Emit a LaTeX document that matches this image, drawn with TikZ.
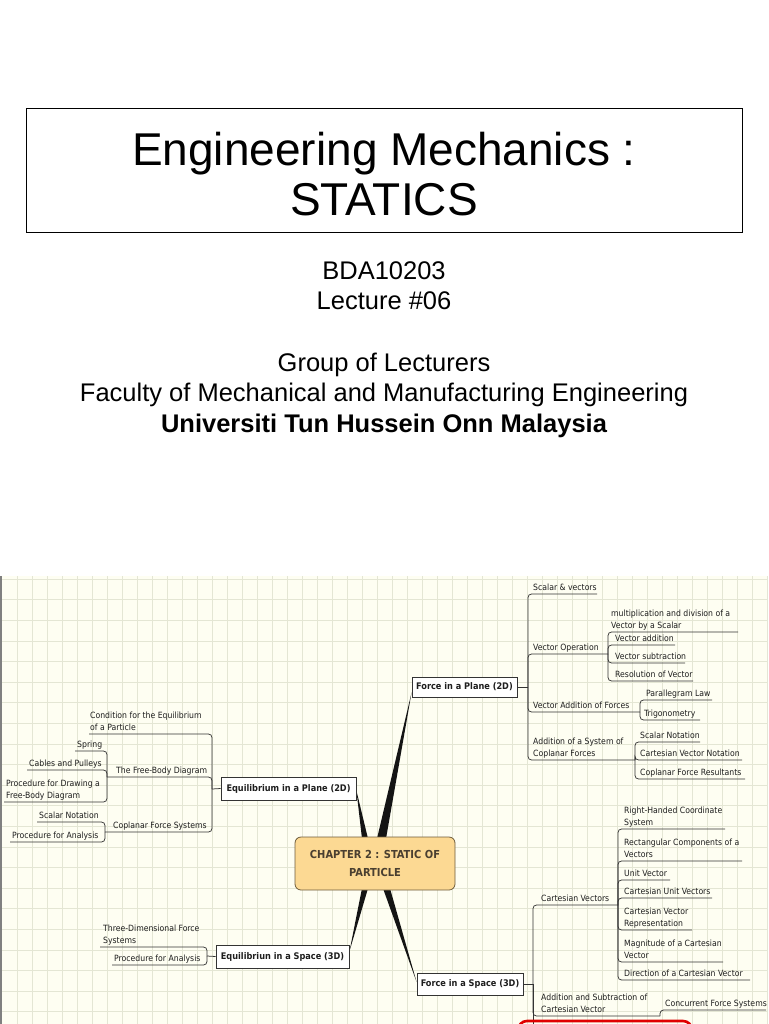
\documentclass[tikz,border=0pt]{standalone}
\usepackage{fontspec}
\setmainfont{Liberation Sans}
\newfontfamily\mmf{DejaVu Sans Condensed}[BoldFont={DejaVu Sans Condensed Bold}]
\usetikzlibrary{calc}
\definecolor{bgc}{HTML}{FEFEF2}
\definecolor{gridc}{HTML}{E4E6D4}
\definecolor{txtc}{HTML}{1E1E1E}
\definecolor{linec}{HTML}{333333}
\definecolor{corec}{HTML}{FCD993}
\definecolor{coreb}{HTML}{6E5C3C}
\definecolor{coret}{HTML}{4A3F30}
\definecolor{redc}{HTML}{E00000}
\pgfdeclarelayer{back}
\pgfsetlayers{back,main}
\tikzset{
  item/.style={font=\mmf\fontsize{8.6}{12.8}\selectfont, text=txtc, inner xsep=0pt,
    inner ysep=3pt, text depth=0pt, align=left, anchor=south west},
  topic/.style={draw=linec, fill=white, line width=0.8pt,
    font=\mmf\bfseries\fontsize{9.1}{11}\selectfont, text=txtc, inner sep=0pt},
  core/.style={draw=coreb, fill=corec, line width=0.8pt, rounded corners=6pt,
    font=\mmf\bfseries\fontsize{11}{17.5}\selectfont, text=coret, align=center,
    minimum width=160pt, minimum height=53pt, inner sep=0pt},
  conn/.style={draw=linec, line width=0.75pt, rounded corners=3.5pt},
  taper/.style={fill=black!92},
  titlet/.style={font=\fontsize{46}{50}\selectfont, anchor=base, inner sep=0pt},
  slide/.style={font=\fontsize{25.5}{30}\selectfont, anchor=base, inner sep=0pt},
}
\newcommand\mmi[5]{\node[item] (#1) at (#2,#3) {#4}; \coordinate (#1-e) at (#5,#3);}
\begin{document}
\begin{tikzpicture}[x=1pt,y=-1pt]
\useasboundingbox (0,0) rectangle (768,1024);
\begin{pgfonlayer}{back}
\fill[white] (0,0) rectangle (768,1024);
\fill[bgc] (0,576) rectangle (768,1024);
\foreach \i in {1,...,51} \draw[gridc, line width=0.6pt] ({2+15*\i},576) -- ({2+15*\i},1024);
\foreach \i in {0,...,21} \draw[gridc, line width=0.6pt] (0,{579+20.6*\i}) -- (768,{579+20.6*\i});
\draw[gray, line width=2pt] (1,576) -- (1,1024);
\end{pgfonlayer}

% ---- title slide
\node[draw, line width=0.8pt, minimum width=716pt, minimum height=124pt, inner sep=0pt] (titlebox) at (384,170) {};
\node[titlet] (t1) at (384,166) {Engineering Mechanics :};
\node[titlet] (t2) at (384,216) {STATICS};
\node[slide] (s1) at (384,279) {BDA10203};
\node[slide] (s2) at (384,309) {Lecture \#06};
\node[slide] (s3) at (384,371) {Group of Lecturers};
\node[slide] (s4) at (384,401) {Faculty of Mechanical and Manufacturing Engineering};
\node[slide, font=\bfseries\fontsize{25.5}{30}\selectfont] (s5) at (384,432) {Universiti Tun Hussein Onn Malaysia};

% ---- mind map main nodes
\node[core] (core) at (375,863.5) {CHAPTER 2 : STATIC OF\\PARTICLE};
\node[topic, minimum width=105pt, minimum height=20pt] (FP) at (464.5,687) {Force in a Plane (2D)};
\node[topic, minimum width=135pt, minimum height=23pt] (EP) at (288.5,788.5) {Equilibrium in a Plane (2D)};
\node[topic, minimum width=133pt, minimum height=23pt] (ES) at (282.5,956.5) {Equilibriun in a Space (3D)};
\node[topic, minimum width=106pt, minimum height=22pt] (FS) at (470,984) {Force in a Space (3D)};

\begin{pgfonlayer}{back}
\fill[taper] ($(core.north)+(2,2)$) -- ($(core.north)+(11,2)$) -- ($(FP.south west)+(0,-5)$) -- cycle;
\fill[taper] ($(core.north)+(-13,2)$) -- ($(core.north)+(-7,2)$) -- ($(EP.east)+(0,2)$) -- cycle;
\fill[taper] ($(core.south)+(-13,-2)$) -- ($(core.south)+(-7,-2)$) -- ($(ES.east)+(0,-5)$) -- cycle;
\fill[taper] ($(core.south)+(8,-2)$) -- ($(core.south)+(15,-2)$) -- ($(FS.west)+(0,-2)$) -- cycle;
\end{pgfonlayer}

% ---- Force in a Plane (2D)
\coordinate (j1) at (528,687);
\mmi{sv}{533}{594}{Scalar \& vectors}{597}
\mmi{vo}{533}{654}{Vector Operation}{608}
\mmi{vaf}{533}{712}{Vector Addition of Forces}{640}
\mmi{asc}{533}{760}{Addition of a System of\\Coplanar Forces}{635}
\draw[conn] (FP.east) -- (j1);
\draw[conn] (j1) |- (sv-e);
\draw[conn] (j1) |- (vo-e);
\draw[conn] (j1) |- (vaf-e);
\draw[conn] (j1) |- (asc-e);

\mmi{md}{611}{632}{multiplication and division of a\\Vector by a Scalar}{738}
\mmi{vad}{615}{645}{Vector addition}{675}
\mmi{vsu}{615}{663}{Vector subtraction}{685}
\mmi{rov}{615}{681}{Resolution of Vector}{693}
\draw[conn] (vo-e) |- (md-e);
\draw[conn] (vo-e) |- (vad-e);
\draw[conn] (vo-e) |- (vsu-e);
\draw[conn] (vo-e) |- (rov-e);

\mmi{pl}{646}{700}{Parallegram Law}{712}
\mmi{tri}{644}{720}{Trigonometry}{700}
\draw[conn] (vaf-e) |- (pl-e);
\draw[conn] (vaf-e) |- (tri-e);

\mmi{sna}{640}{742}{Scalar Notation}{700}
\mmi{cvn}{640}{760}{Cartesian Vector Notation}{742}
\mmi{cfr}{640}{779}{Coplanar Force Resultants}{745}
\draw[conn] (asc-e) |- (sna-e);
\draw[conn] (asc-e) |- (cvn-e);
\draw[conn] (asc-e) |- (cfr-e);

% ---- Equilibrium in a Plane (2D)
\coordinate (j5) at (212,789);
\mmi{cond}{90}{734}{Condition for the Equilibrium\\of a Particle}{89}
\mmi{fbd}{116}{777}{The Free-Body Diagram}{107}
\mmi{cfs}{113}{832}{Coplanar Force Systems}{105}
\draw[conn] (EP.west) -- (j5);
\draw[conn] (j5) |- (cond-e);
\draw[conn] (j5) |- (fbd-e);
\draw[conn] (j5) |- (cfs-e);

\mmi{spr}{77}{751}{Spring}{75}
\mmi{cap}{29}{770}{Cables and Pulleys}{27}
\mmi{pdf}{6}{802}{Procedure for Drawing a\\Free-Body Diagram}{4}
\draw[conn] (fbd-e) |- (spr-e);
\draw[conn] (fbd-e) |- (cap-e);
\draw[conn] (fbd-e) |- (pdf-e);

\mmi{snb}{39}{822}{Scalar Notation}{37}
\mmi{pfa}{12}{842}{Procedure for Analysis}{10}
\draw[conn] (cfs-e) |- (snb-e);
\draw[conn] (cfs-e) |- (pfa-e);

% ---- Equilibriun in a Space (3D)
\coordinate (j8) at (207,956);
\mmi{tdf}{103}{947}{Three-Dimensional Force\\Systems}{100}
\mmi{pfb}{114}{965}{Procedure for Analysis}{112}
\draw[conn] (ES.west) -- (j8);
\draw[conn] (j8) |- (tdf-e);
\draw[conn] (j8) |- (pfb-e);

% ---- Force in a Space (3D)
\coordinate (j9) at (533,984);
\coordinate (j9b) at (533,1030);
\mmi{cv}{541}{905}{Cartesian Vectors}{618}
\mmi{ascv}{541}{1016}{Addition and Subtraction of\\Cartesian Vector}{660}
\draw[conn] (FS.east) -- (j9);
\draw[conn] (j9) |- (cv-e);
\draw[conn] (j9) |- (ascv-e);
\draw[conn] (j9) -- (j9b);

\mmi{rhc}{624}{829}{Right-Handed Coordinate\\System}{725}
\mmi{rcv}{624}{861}{Rectangular Components of a\\Vectors}{742}
\mmi{uv}{624}{880}{Unit Vector}{670}
\mmi{cuv}{624}{898}{Cartesian Unit Vectors}{712}
\mmi{cvr}{624}{930}{Cartesian Vector\\Representation}{692}
\mmi{mcv}{624}{962}{Magnitude of a Cartesian\\Vector}{723}
\mmi{dcv}{624}{980}{Direction of a Cartesian Vector}{750}
\foreach \n in {rhc,rcv,uv,cuv,cvr,mcv,dcv} \draw[conn] (cv-e) |- (\n-e);

\mmi{cfsy}{665}{1010}{Concurrent Force Systems}{766}
\draw[conn] (ascv-e) |- (cfsy-e);

\draw[redc, line width=2.6pt, rounded corners=9pt] (518,1045) -- (518,1021) -- (692,1021) -- (692,1045);
\end{tikzpicture}
\end{document}
